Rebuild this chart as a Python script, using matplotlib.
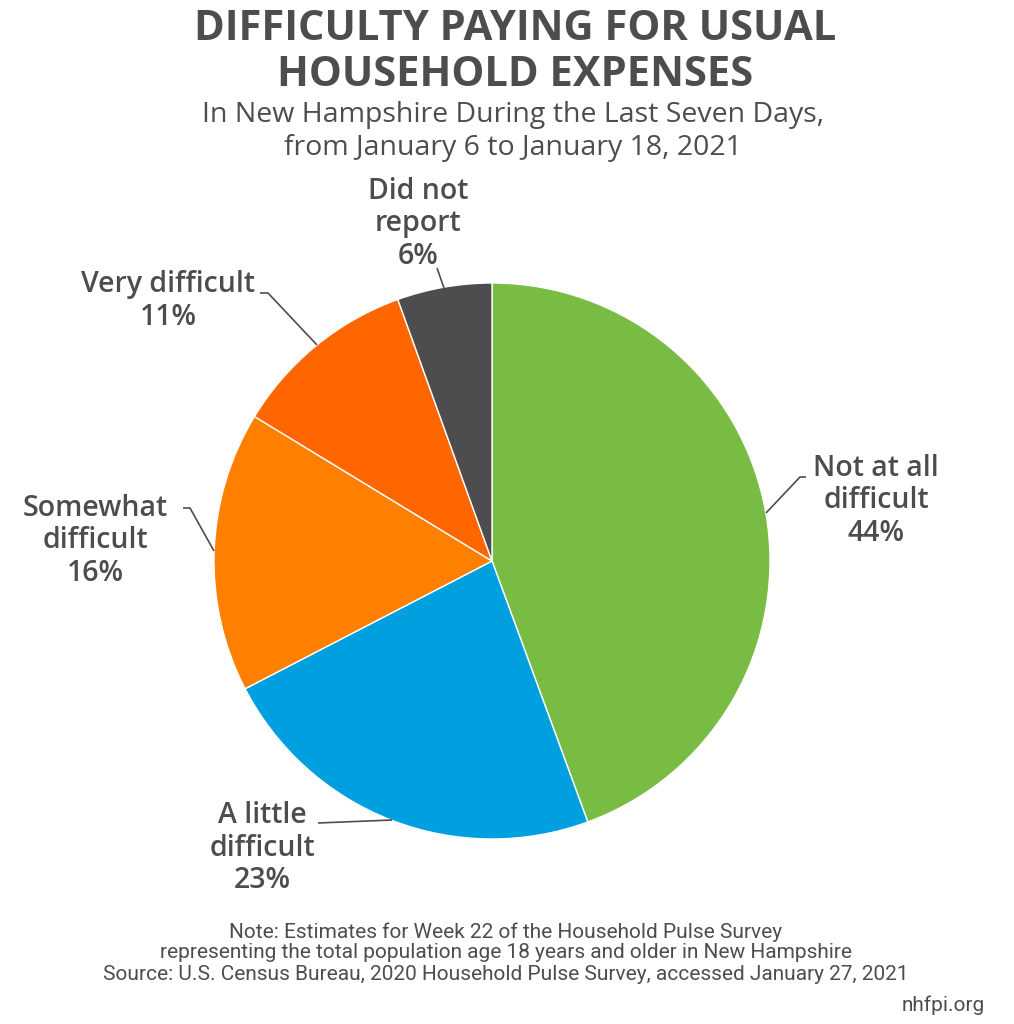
import matplotlib
matplotlib.use("Agg")
import matplotlib.pyplot as plt

# slice data, clockwise from 12 o'clock
categories = ["Not at all\ndifficult", "A little\ndifficult", "Somewhat\ndifficult",
              "Very difficult", "Did not\nreport"]
shares = [44.4, 23.0, 16.3, 10.8, 5.5]
pct_labels = ["44%", "23%", "16%", "11%", "6%"]
colors = ["#78bc43", "#009fdf", "#ff8000", "#ff6600", "#4d4d4f"]

TXT = "#4d4d4f"
W, H = 1014, 1024
MAIN = "Open Sans"
NARROW = "Roboto"

fig = plt.figure(figsize=(W / 100, H / 100), dpi=100)
ax = fig.add_axes([0, 0, 1, 1])
ax.set_aspect("equal")
ax.axis("off")

def Y(py):
    return H - py

cx, cy, r = 492, Y(561), 278
ax.pie(shares, colors=colors, startangle=90, counterclock=False,
       center=(cx, cy), radius=r,
       wedgeprops=dict(edgecolor="white", linewidth=1.0))
ax.set_xlim(0, W)
ax.set_ylim(0, H)

# title block
for txt, y in [("DIFFICULTY PAYING FOR USUAL", 30), ("HOUSEHOLD EXPENSES", 75)]:
    ax.text(W / 2 + 8, Y(y), txt, ha="center", va="center",
            fontsize=30, fontweight="bold", family=MAIN, color=TXT)
for txt, y in [("In New Hampshire During the Last Seven Days,", 115),
               ("from January 6 to January 18, 2021", 148)]:
    ax.text(W / 2 + 6, Y(y), txt, ha="center", va="center",
            fontsize=20.5, fontweight="normal", family=MAIN, color=TXT)

# slice labels: text block centre, leader line points (pixels from top-left)
label_pos = [(876, 501), (262, 848), (95, 541), (168, 301), (418, 224)]
leaders = [
    [(806, 477), (800, 477), (766, 513)],
    [(318, 823), (392, 820)],
    [(183, 508), (190, 508), (214, 551)],
    [(260, 293), (268, 293), (317, 345)],
    [(437, 268), (444, 288)],
]
for cat, pct, (lx, ly), pts in zip(categories, pct_labels, label_pos, leaders):
    ax.text(lx, Y(ly), cat + "\n" + pct, ha="center", va="center",
            fontsize=20.5, fontweight="semibold", family=MAIN, color=TXT,
            linespacing=1.17)
    ax.plot([p[0] for p in pts], [Y(p[1]) for p in pts],
            color=TXT, lw=1.2, solid_capstyle="butt")

# notes
notes = ["Note: Estimates for Week 22 of the Household Pulse Survey",
         "representing the total population age 18 years and older in New Hampshire",
         "Source: U.S. Census Bureau, 2020 Household Pulse Survey, accessed January 27, 2021"]
for i, line in enumerate(notes):
    ax.text(506, Y(932 + 21 * i), line, ha="center", va="center",
            fontsize=15, fontweight="normal", family=NARROW, color=TXT)
ax.text(985, Y(1005), "nhfpi.org", ha="right", va="center",
        fontsize=15, fontweight="normal", family=NARROW, color=TXT)

fig.savefig("out.png", dpi=100, facecolor="white")
